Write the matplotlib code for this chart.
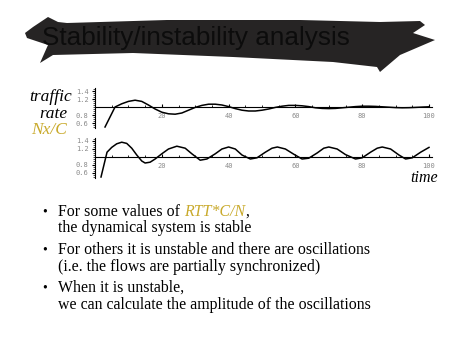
import matplotlib
matplotlib.use('Agg')
import matplotlib.pyplot as plt
from matplotlib.patches import Polygon
from matplotlib.ticker import MultipleLocator, FixedLocator

W, H = 474, 355

# stable case (top)
t_stable = [3, 4.5, 6, 8, 10, 12, 14, 16, 18, 20, 22, 24, 26, 28, 30, 32, 34, 36,
            38, 40, 42, 44, 46, 48, 50, 52, 54, 56, 58, 60, 62, 64, 66, 68, 70,
            72, 74, 76, 78, 80, 82, 84, 86, 88, 90, 92, 94, 96, 98, 100]
y_stable = [0.5, 0.75, 1.0, 1.08, 1.14, 1.17, 1.14, 1.05, 0.95, 0.87, 0.83, 0.82,
            0.85, 0.92, 0.99, 1.04, 1.07, 1.07, 1.05, 1.01, 0.96, 0.92, 0.90, 0.90,
            0.92, 0.95, 0.99, 1.02, 1.04, 1.04, 1.03, 1.01, 0.98, 0.965, 0.96,
            0.965, 0.98, 0.995, 1.01, 1.02, 1.02, 1.015, 1.005, 0.995, 0.985, 0.98,
            0.983, 0.99, 0.998, 1.005]

# unstable case (bottom)
t_unstable = [1.8, 3.6, 5, 6.5, 8, 9.5, 11, 12.5, 14, 15, 16.5, 18, 20, 22, 24.5,
              27, 29, 31.5, 33.5, 36, 38, 40, 42, 44, 46.5, 48.5, 51, 53, 54.6,
              57, 59.5, 62, 64, 66.5, 68.5, 70, 72.5, 75, 78, 80, 82.5, 84.5, 86,
              88.5, 91, 93, 95, 97.5, 100]
y_unstable = [0.5, 1.12, 1.24, 1.33, 1.37, 1.34, 1.22, 1.05, 0.9, 0.85, 0.87, 0.95,
              1.08, 1.2, 1.27, 1.22, 1.08, 0.92, 0.95, 1.08, 1.2, 1.25, 1.2, 1.05,
              0.95, 0.98, 1.12, 1.22, 1.25, 1.2, 1.07, 0.95, 0.97, 1.1, 1.22, 1.25,
              1.2, 1.06, 0.95, 0.98, 1.12, 1.22, 1.25, 1.2, 1.05, 0.95, 0.98, 1.12,
              1.24]

x_ticks = [20, 40, 60, 80, 100]
y_ticks = [0.6, 0.8, 1.2, 1.4]

title = 'Stability/instability analysis'
bullets = [
    [('For some values of ', None), ('RTT*C/N', 'gold'), (',', None)],
    [('the dynamical system is stable', None)],
    [('For others it is unstable and there are oscillations', None)],
    [('(i.e. the flows are partially synchronized)', None)],
    [('When it is unstable,', None)],
    [('we can calculate the amplitude of the oscillations', None)],
]
GOLD = '#c9aa2c'
SERIF = 'Liberation Serif'


def fx(px):
    return px / W


def fy(py):
    return 1 - py / H


fig = plt.figure(figsize=(W / 100, H / 100), dpi=100)
fig.patch.set_facecolor('white')

# brush stroke behind the title
brush = [(25, 33), (33, 27), (48, 17), (58, 22), (67, 23), (167, 20), (300, 20),
         (380, 22), (420, 21), (425, 25), (413, 33), (435, 40), (400, 55),
         (380, 72), (377, 67), (333, 62), (233, 57), (133, 53), (53, 55),
         (40, 63), (48, 45), (27, 38)]
fig.patches.append(Polygon([(fx(x), fy(y)) for x, y in brush], closed=True,
                           transform=fig.transFigure, facecolor='#262424',
                           edgecolor='none', zorder=0))
fig.text(fx(42), fy(38), title, fontsize=18.8, family='Liberation Sans',
         color='#0c0c0c', va='center', ha='left', zorder=1)


def make_axes(top_px, t, y):
    # y = 1.0 sits 19 px below top, 40 px per unit
    ylo, yhi = 0.48, 1.47
    h = (yhi - ylo) * 40
    ax = fig.add_axes([fx(95), fy(top_px + h), 101 * 3.34 / W, h / H])
    ax.set_xlim(0, 101)
    ax.set_ylim(ylo, yhi)
    ax.set_facecolor('none')
    ax.plot(t, y, color='black', lw=1.1, clip_on=False)
    for s in ['top', 'right']:
        ax.spines[s].set_visible(False)
    ax.spines['bottom'].set_position(('data', 1.0))
    ax.spines['left'].set_position(('data', 0))
    ax.spines['bottom'].set_linewidth(0.8)
    ax.spines['left'].set_linewidth(0.8)
    ax.xaxis.set_major_locator(FixedLocator(x_ticks))
    ax.xaxis.set_minor_locator(MultipleLocator(5))
    ax.yaxis.set_major_locator(FixedLocator(y_ticks))
    ax.yaxis.set_minor_locator(MultipleLocator(0.05))
    ax.tick_params(axis='x', which='major', direction='in', length=2.5, width=0.8,
                   labelsize=5, labelcolor='#8a8a8a', pad=4)
    ax.tick_params(axis='x', which='minor', direction='in', length=1.5, width=0.6)
    ax.tick_params(axis='y', which='major', direction='out', length=2.5, width=0.8,
                   labelsize=5, labelcolor='#8a8a8a', pad=2)
    ax.tick_params(axis='y', which='minor', direction='out', length=1.8, width=0.5)
    ax.set_xticklabels([str(v) for v in x_ticks], family='DejaVu Sans Mono')
    ax.set_yticklabels([f'{v:.1f}' for v in y_ticks], family='DejaVu Sans Mono')
    return ax


make_axes(88.2, t_stable, y_stable)
make_axes(138.2, t_unstable, y_unstable)

# side labels
side = dict(fontsize=12.5, family=SERIF, style='italic', ha='right', va='center')
fig.text(fx(72), fy(97), 'traffic', **side)
fig.text(fx(67), fy(114), 'rate', **side)
fig.text(fx(67), fy(130), 'Nx/C', color=GOLD, **side)
fig.text(fx(438), fy(178), 'time', fontsize=11.5, family=SERIF, style='italic',
         ha='right', va='center')

# bullet text
line_y = [212, 228, 250, 267, 288, 305]
renderer = fig.canvas.get_renderer()
for i, (yy, parts) in enumerate(zip(line_y, bullets)):
    if i % 2 == 0:
        fig.text(fx(45), fy(yy), '\u2022', fontsize=10, family=SERIF,
                 ha='center', va='center')
    x = fx(58)
    for s, c in parts:
        kw = dict(fontsize=11.4, family=SERIF, va='center', ha='left')
        if c == 'gold':
            kw.update(color=GOLD, style='italic')
        txt = fig.text(x, fy(yy), s, **kw)
        bb = txt.get_window_extent(renderer=renderer)
        x = bb.x1 / fig.bbox.width

fig.savefig('out.png', dpi=100, facecolor='white')
